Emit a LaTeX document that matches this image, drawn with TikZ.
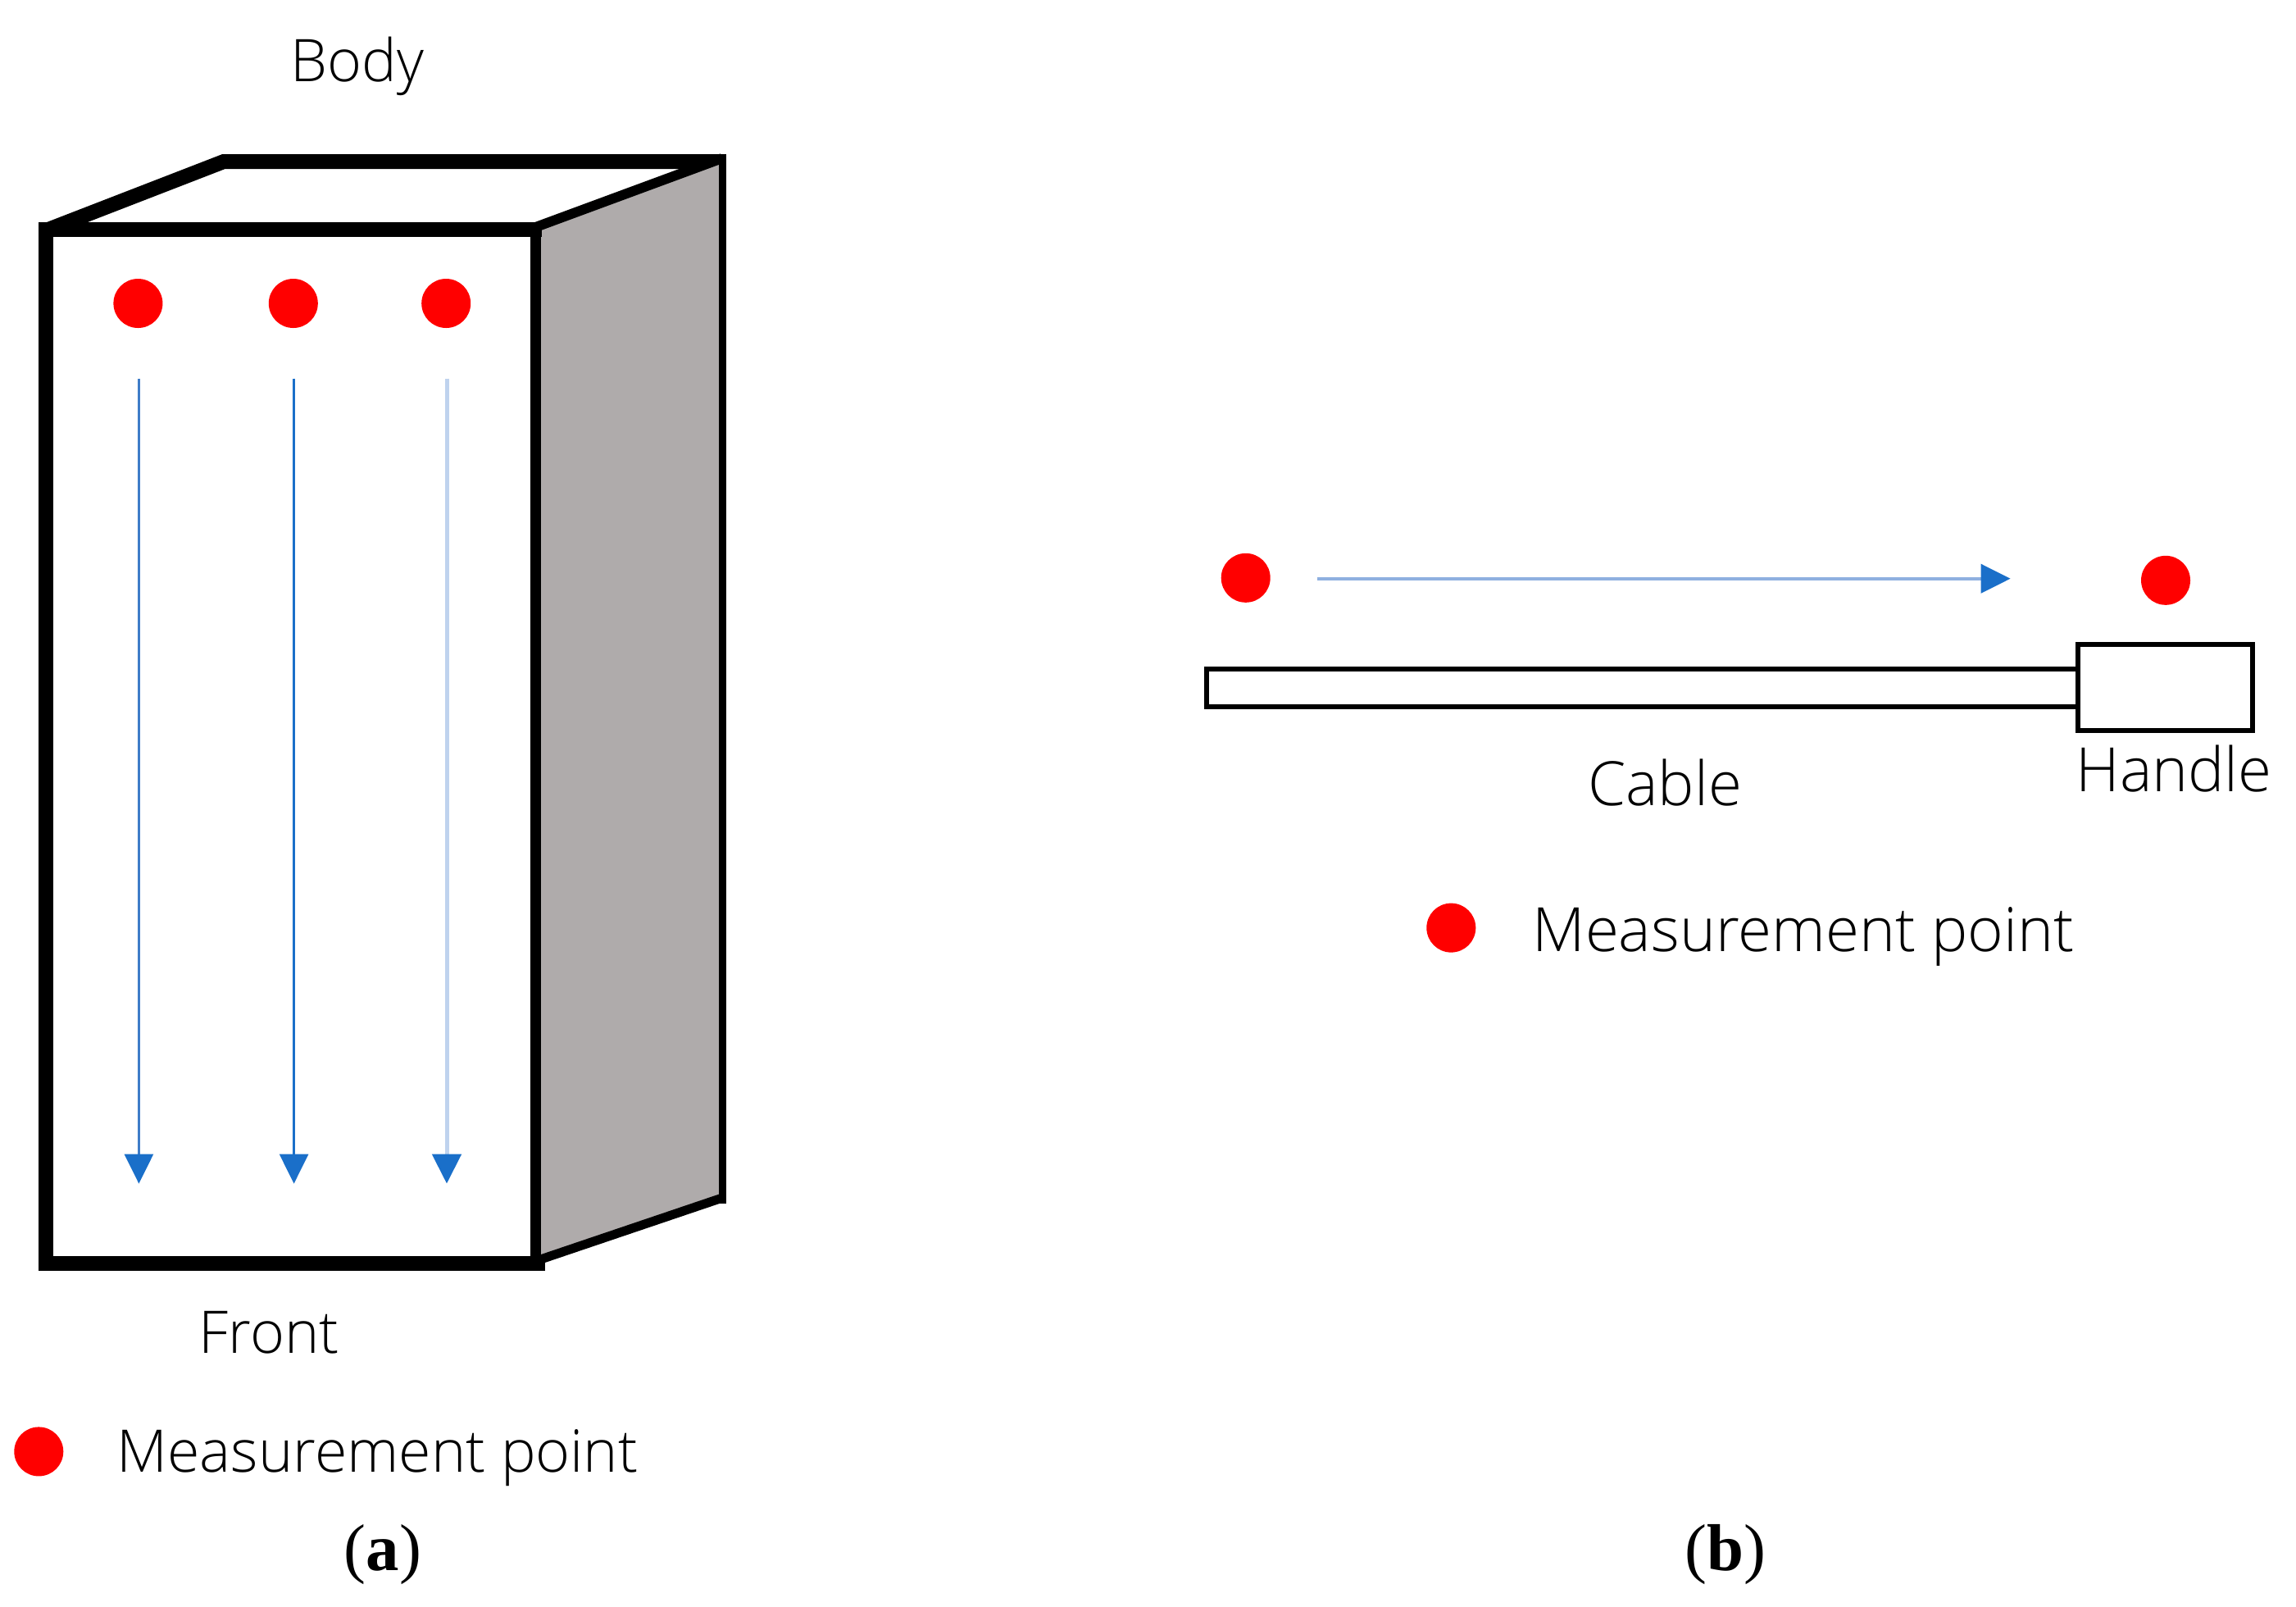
\documentclass[tikz,border=0pt]{standalone}
\usepackage{fontspec}
\setmainfont{Open Sans Light}
\newfontfamily\capfont{Liberation Serif}
\usepackage{tikz}
\usetikzlibrary{arrows.meta, positioning}
\definecolor{sidegray}{HTML}{AFABAB}
\definecolor{tipblue}{HTML}{1A6FC9}
\definecolor{paleblue}{HTML}{BFD3EE}
\definecolor{midblue}{HTML}{8FB0E0}
\definecolor{softblue}{HTML}{3E7CC8}
\tikzset{
    point/.style={circle, fill=red, inner sep=0pt, minimum size=0.6cm},
    tagleft/.style={anchor=base, inner sep=0pt, font=\fontsize{20.4}{24}\selectfont},
    tagright/.style={anchor=base, inner sep=0pt, font=\fontsize{21.2}{25}\selectfont},
    panel/.style={anchor=base, inner sep=0pt, font=\capfont\fontsize{23}{27}\selectfont},
    flow/.style={line width=0.03cm, -{Triangle[length=0.36cm, width=0.35cm, color=tipblue]}},
    thickedge/.style={line width=0.18cm, line join=miter, line cap=butt},
    partbox/.style={rectangle, draw=black, fill=white, line width=0.065cm, inner sep=0pt, outer sep=0pt}
}

\begin{document}
\begin{tikzpicture}[node distance=1.28cm and 1.28cm]
    \useasboundingbox (0,0) rectangle (28.01,-19.59);
    % Body corners
    \coordinate (ftl) at (0.558,-2.80);
    \coordinate (ftr) at (6.535,-2.80);
    \coordinate (fbl) at (0.558,-15.41);
    \coordinate (fbr) at (6.535,-15.41);
    \coordinate (btl) at (2.73,-1.97);
    \coordinate (btr) at (8.81,-1.97);
    \coordinate (bbr) at (8.81,-14.61);
    % Body faces
    \draw [thickedge] (0.60,-2.795) -- (btl) -- (8.856,-1.97);
    \fill [sidegray] (ftr) -- (btr) -- (bbr) -- (fbr) -- cycle;
    \draw [line width=0.09cm] (8.81,-1.88) -- (8.81,-14.675);
    \draw [line width=0.12cm] (6.535,-2.77) -- (8.81,-1.93);
    \draw [line width=0.11cm] (6.535,-15.38) -- (8.81,-14.61);
    \draw [line width=0.13cm] (ftr) -- (fbr);
    \draw [thickedge] (6.61,-2.80) -- (ftl) -- (fbl) -- (6.65,-15.41);
    % Body points
    \node (point_a1) [point] at (1.684,-3.70) {};
    \node (point_a2) [point, right=of point_a1] {};
    \node (point_a3) [point, right=1.25cm of point_a2] {};
    \coordinate (start_a1) at (1.694,-4.617);
    \coordinate (start_a2) at (3.586,-4.617);
    \coordinate (start_a3) at (5.45,-4.617);
    \coordinate (stop_a1) at (1.694,-14.436);
    \coordinate (stop_a2) at (3.586,-14.436);
    \coordinate (stop_a3) at (5.45,-14.436);
    \draw [flow, softblue] (start_a1) -- (stop_a1);
    \draw [flow, tipblue] (start_a2) -- (stop_a2);
    \draw [flow, paleblue, line width=0.05cm] (start_a3) -- (stop_a3);
    % Labels left
    \node (body) [tagleft] at (4.36,-0.996) {Body};
    \node (front) [tagleft] at (3.28,-16.504) {Front};
    \node (legend_a) [point] at (0.473,-17.704) {};
    \node (legend_a_text) [tagleft, anchor=base west] at (1.42,-17.954) {Measurement point};
    \node (panel_a) [panel] at (4.67,-19.15) {(\textbf{a})};
    % Cable and handle
    \node (cable) [partbox, minimum width=10.63cm, minimum height=0.464cm, anchor=north west] at (14.72,-8.158) {};
    \node (handle) [partbox, minimum width=2.126cm, minimum height=1.046cm, anchor=north west] at (25.352,-7.862) {};
    % Cable points
    \node (point_b1) [point] at (15.197,-7.048) {};
    \node (point_b2) [point] at (26.42,-7.078) {};
    \coordinate (start_b) at (16.069,-7.057);
    \coordinate (stop_b) at (24.526,-7.057);
    \draw [flow, midblue, line width=0.04cm] (start_b) -- (stop_b);
    % Labels right
    \node (cable_text) [tagright] at (20.31,-9.827) {Cable};
    \node (handle_text) [tagright] at (26.52,-9.658) {Handle};
    \node (legend_b) [point] at (17.703,-11.316) {};
    \node (legend_b_text) [tagright, anchor=base west] at (18.69,-11.60) {Measurement point};
    \node (panel_b) [panel] at (21.05,-19.15) {(\textbf{b})};
\end{tikzpicture}
\end{document}
